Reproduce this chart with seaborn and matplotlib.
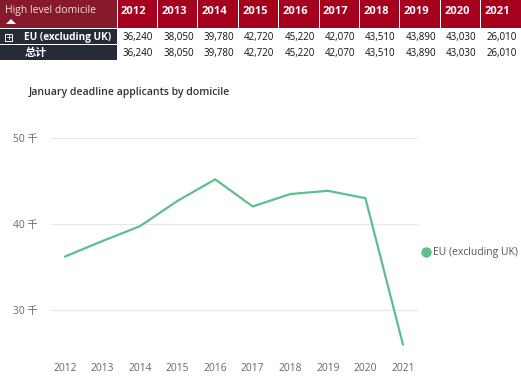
import numpy as np
import pandas as pd
import matplotlib.pyplot as plt
import seaborn as sns
from matplotlib.lines import Line2D
from matplotlib.patches import Rectangle, Polygon

years = [2012, 2013, 2014, 2015, 2016, 2017, 2018, 2019, 2020, 2021]
eu_values = [36240, 38050, 39780, 42720, 45220, 42070, 43510, 43890, 43030, 26010]
series_name = "EU (excluding UK)"
total_label = "总计"
header_label = "High level domicile"
chart_title = "January deadline applicants by domicile"

sns.set_style("white")
plt.rcParams['font.family'] = ['Open Sans', 'Noto Sans CJK SC', 'DejaVu Sans']

line_color = "#5fbf8c"
red = "#a6001f"
dark_red = "#861a2c"
navy = "#262b38"

fig = plt.figure(figsize=(5.21, 3.81), dpi=100)

# ---- table at the top (pixel units) ----
tab = fig.add_axes([0, 1 - 61 / 381, 1, 61 / 381])
tab.set_xlim(0, 521)
tab.set_ylim(61, 0)
tab.axis("off")

first_w = 117
col_w = (521 - first_w) / len(years)
rows_y = [(0, 28), (29, 45), (45, 61)]

tab.add_patch(Rectangle((0, 0), first_w, 28, color=dark_red, lw=0))
tab.text(5, 11, header_label, color="#f1dede", fontsize=7.5, va="center", ha="left")
tab.add_patch(Polygon([[6, 24], [16, 24], [11, 19]], closed=True, color="white", lw=0))
for i, yr in enumerate(years):
    x0 = first_w + i * col_w
    tab.add_patch(Rectangle((x0 + 0.5, 0), col_w - 1, 28, color=red, lw=0))
    tab.text(x0 + 4, 11, str(yr), color="white", fontsize=8, fontweight="bold", va="center")

for r, label in enumerate([series_name, total_label]):
    y0, y1 = rows_y[r + 1]
    tab.add_patch(Rectangle((0, y0), first_w, y1 - y0 - 0.6, color=navy, lw=0))
    yc = (y0 + y1) / 2 + 0.8
    if r == 0:
        tab.add_patch(Rectangle((5, y0 + 4.5), 7, 7, fill=False, ec="white", lw=0.7))
        tab.plot([6.5, 10.5], [y0 + 8, y0 + 8], color="white", lw=0.6)
        tab.plot([8.5, 8.5], [y0 + 6, y0 + 10], color="white", lw=0.6)
        tab.text(24, yc, label, color="white", fontsize=7.2, fontweight="bold", va="center")
    else:
        tab.text(25, yc, label, color="white", fontsize=8, fontweight="bold", va="center")
    for i, v in enumerate(eu_values):
        x1 = first_w + (i + 1) * col_w
        tab.text(x1 - 4, yc, f"{v:,}", color="#111111", fontsize=7, va="center", ha="right")

# ---- line chart ----
df = pd.DataFrame({"year": years, "applicants": eu_values, "domicile": series_name})

ax = fig.add_axes([51 / 521, 32 / 381, 367 / 521, 212.5 / 381])
sns.lineplot(data=df, x="year", y="applicants", hue="domicile", palette=[line_color],
             linewidth=1.6, ax=ax, legend=False)
ax.set_xlim(2011.63, 2021.4)
ax.set_ylim(25500, 50200)
ax.set_yticks([30000, 40000, 50000])
ax.set_yticklabels([f"{int(v / 1000)} 千" for v in [30000, 40000, 50000]])
ax.set_xticks(years)
ax.set_xticklabels([str(y) for y in years])
ax.tick_params(axis="both", colors="#666666", labelsize=7.4, length=0)
ax.tick_params(axis="y", pad=9.5)
ax.tick_params(axis="x", pad=10)
ax.grid(axis="y", color="#e8e8e8", lw=0.9)
ax.grid(axis="x", visible=False)
sns.despine(ax=ax, left=True, bottom=True)
ax.set_xlabel("")
ax.set_ylabel("")

fig.text(29 / 521, 1 - 92 / 381, chart_title, fontsize=7.6, fontweight="semibold",
         color="#333333", va="center", ha="left")

handle = Line2D([], [], marker="o", color=line_color, lw=0, markersize=6.5)
fig.legend([handle], [series_name], loc="center left", frameon=False,
           bbox_to_anchor=(417 / 521, 1 - 253 / 381), fontsize=7.5,
           labelcolor="#555555", handletextpad=0.1, borderaxespad=0, handlelength=1)

fig.savefig("out.png", dpi=100)
